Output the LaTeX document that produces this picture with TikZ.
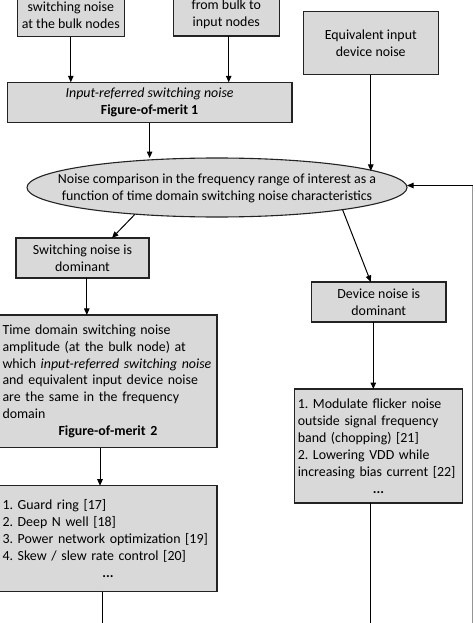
\documentclass[tikz,border=0pt]{standalone}
\usepackage{fontspec}
\setmainfont{Carlito}
\usetikzlibrary{arrows.meta,shapes.geometric}
\definecolor{boxfill}{RGB}{217,217,217}
\definecolor{boxline}{RGB}{35,35,35}
\definecolor{fbline}{RGB}{150,150,150}
\newcommand{\fsz}{\fontsize{13.9}{16.9}\selectfont\frenchspacing}
\newcommand{\midline}[1]{\par\noindent\hbox to\hsize{\hss#1\hss}}
\tikzset{
  box/.style={draw=boxline, fill=boxfill, line width=1.1pt, inner sep=0pt, outer sep=0pt, align=center, font=\fsz},
  lbox/.style={box, align=left, inner xsep=3.5pt, inner ysep=0pt},
  plain/.style={inner sep=0pt, align=center, font=\fsz},
  arr/.style={-{Triangle[length=6.5pt,width=5.5pt]}, line width=1pt, draw=black},
  conn/.style={line width=1pt, draw=black}
}
\begin{document}
\begin{tikzpicture}[x=1pt,y=-1pt]
\useasboundingbox (0,0) rectangle (474,623);

% top boxes (cut by the frame)
\node[box, minimum width=107pt, minimum height=66.7pt] (A) at (70.8,3.35) {};
\node[plain] (At) at (70.8,15) {switching noise\\at the bulk nodes};
\node[box, minimum width=106pt, minimum height=66pt] (B) at (226.3,3) {};
\node[plain] (Bt) at (226.3,14.5) {from bulk to\\input nodes};
\node[box, minimum width=135pt, minimum height=63.3pt] (C) at (370.8,43.3) {Equivalent input\\device noise};

\node[box, minimum width=284.7pt, minimum height=40.4pt] (D) at (149.6,102.5)
  {\textit{Input-referred switching noise}\\\textbf{Figure-of-merit 1}};

\node[box, ellipse, minimum width=380pt, minimum height=59pt] (E) at (217,187.5) {};
\node[plain] (Et) at (217,188.5)
  {Noise comparison in the frequency range of interest as a\\function of time domain switching noise characteristics};

\node[box, minimum width=133pt, minimum height=40pt] (F) at (82.5,258) {Switching noise is\\dominant};
\node[box, minimum width=134.3pt, minimum height=40pt] (G) at (378.8,302) {Device noise is\\dominant};

\node[lbox, text width=211pt, minimum height=132.7pt] (H) at (108,381.3)
  {Time domain switching noise\\amplitude (at the bulk node) at\\which \textit{input-referred switching noise}\\and equivalent input device noise\\are the same in the frequency\\domain\midline{\textbf{Figure-of-merit 2}}};

\node[lbox, text width=161.4pt, minimum height=114pt] (I) at (378.5,446)
  {1. Modulate flicker noise\\outside signal frequency\\band (chopping) [21]\\2. Lowering VDD while\\increasing bias current [22]\midline{\textbf{...}}};

\node[lbox, text width=211pt, minimum height=106pt] (J) at (108,538.7)
  {1. Guard ring [17]\\2. Deep N well [18]\\3. Power network optimization [19]\\4. Skew / slew rate control [20]\midline{\textbf{...}}};

% connectors
\draw[arr] (A.south) -- (A.south |- D.north);
\draw[arr] ([xshift=2.4pt]B.south) -- ([xshift=2.4pt]B.south |- D.north);
\draw[arr] (D.south) -- (D.south |- E.north);
\draw[arr] (C.south) -- (C.south |- E.6.1);
\draw[arr] (E.198.7) -- ([xshift=29.5pt]F.north);
\draw[arr] (E.-10.8) -- ([xshift=-8pt]G.north);
\draw[arr] ([xshift=4.3pt]F.south) -- ([xshift=4.3pt]F.south |- H.north);
\draw[arr] ([xshift=-5.5pt]G.south) -- ([xshift=-5.5pt]G.south |- I.north);
\draw[arr] ([xshift=-8pt]H.south) -- ([xshift=-8pt]H.south |- J.north);

\coordinate (jb) at (102,630);
\coordinate (ib) at (370,630);
\draw[conn] ([xshift=-6pt]J.south) -- (jb);
\draw[conn] ([xshift=-8.5pt]I.south) -- (ib);

\coordinate (fbB) at (472.5,630);
\coordinate (fbC) at (472.5,185.5);
\draw[line width=1pt, draw=fbline] (fbB) -- (fbC);
\draw[arr] ([xshift=0.5pt]fbC) -- (E.east |- fbC);
\end{tikzpicture}
\end{document}
